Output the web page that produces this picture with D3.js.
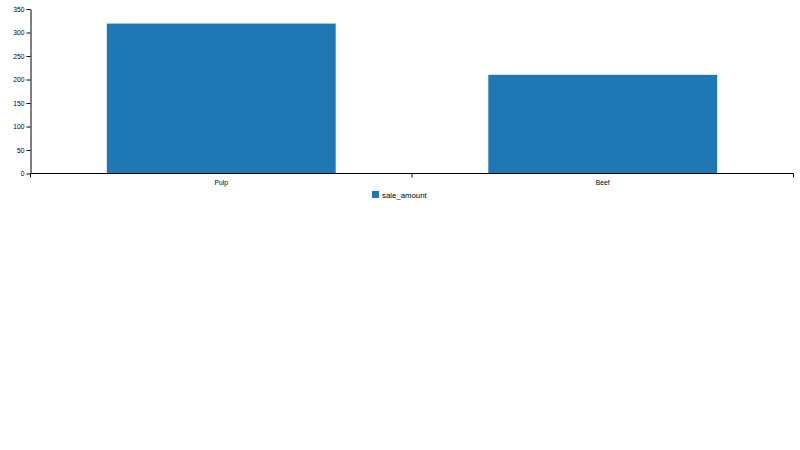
<!DOCTYPE html>
<html>
<head>
<meta charset="utf-8">
<script src="https://cdn.jsdelivr.net/npm/d3@7/dist/d3.min.js"></script>
<style>
  body { margin: 0; background: #fff; }
  svg { display: block; font-family: "Liberation Sans", Arial, sans-serif; }
  .tick text { fill: #000; }
</style>
</head>
<body>
<svg id="chart" width="800" height="450"></svg>
<script>
const categories = ['Pulp', 'Beef'];
const saleAmount = [319, 210];
const yTicks = [0, 50, 100, 150, 200, 250, 300, 350];
const seriesName = 'sale_amount';

const svg = d3.select('#chart');
const margin = { left: 30.5, right: 6.5, top: 9, bottom: 276.5 };
const W = 800, H = 450;

const x = d3.scaleBand()
    .domain(categories)
    .range([margin.left, W - margin.right])
    .paddingInner(0)
    .paddingOuter(0);

const y = d3.scaleLinear()
    .domain([0, 350])
    .range([H - margin.bottom, margin.top]);

// bars, 60% of each band
const bw = x.bandwidth() * 0.6;
svg.append('g').selectAll('rect')
    .data(categories)
    .enter().append('rect')
    .attr('x', d => x(d) + (x.bandwidth() - bw) / 2)
    .attr('y', (d, i) => y(saleAmount[i]))
    .attr('width', bw)
    .attr('height', (d, i) => y(0) - y(saleAmount[i]))
    .attr('fill', '#1f77b4');

// y axis
const yAxis = svg.append('g')
    .attr('transform', `translate(${margin.left},0)`)
    .call(d3.axisLeft(y).tickValues(yTicks).tickSize(4).tickSizeOuter(0).tickPadding(2));
yAxis.selectAll('text').style('font-size', '6.7px');

// x axis: ticks on band boundaries, labels at band centers
const xAxis = svg.append('g')
    .attr('transform', `translate(0,${y(0)})`);
xAxis.append('path')
    .attr('d', `M${margin.left},0H${W - margin.right}`)
    .attr('stroke', '#000')
    .attr('fill', 'none');
const bounds = categories.map(d => x(d)).concat([x(categories[categories.length - 1]) + x.bandwidth()]);
xAxis.selectAll('line.tk')
    .data(bounds)
    .enter().append('line')
    .attr('class', 'tk')
    .attr('x1', d => d).attr('x2', d => d)
    .attr('y1', 0).attr('y2', 4)
    .attr('stroke', '#000');
xAxis.selectAll('text')
    .data(categories)
    .enter().append('text')
    .attr('x', d => x(d) + x.bandwidth() / 2)
    .attr('y', 11)
    .attr('text-anchor', 'middle')
    .style('font-size', '6.7px')
    .text(d => d);

// legend
const legend = svg.append('g').attr('transform', 'translate(372,191)');
legend.append('rect')
    .attr('width', 7).attr('height', 7)
    .attr('fill', '#1f77b4');
legend.append('text')
    .attr('x', 10).attr('y', 6.5)
    .style('font-size', '7.8px')
    .attr('fill', '#000')
    .text(seriesName);
</script>
</body>
</html>
